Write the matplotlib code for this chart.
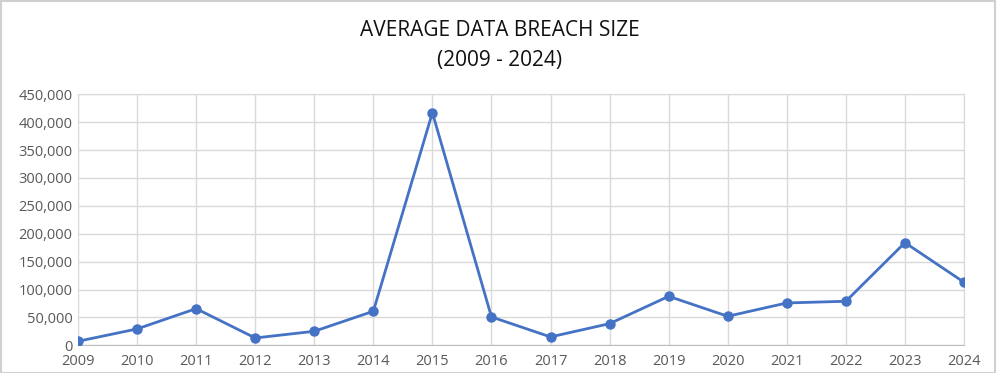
import numpy as np
import matplotlib.pyplot as plt
from matplotlib.ticker import FuncFormatter

# average data breach size per year
years = [2009, 2010, 2011, 2012, 2013, 2014, 2015, 2016,
         2017, 2018, 2019, 2020, 2021, 2022, 2023, 2024]
avg_size = [7200, 29300, 65700, 13100, 25100, 61000, 417000, 50800,
            15000, 38800, 87800, 52000, 75900, 78900, 184000, 113000]
yticks = [0, 50000, 100000, 150000, 200000, 250000, 300000, 350000, 400000, 450000]

plt.rcParams['font.family'] = ['Open Sans', 'DejaVu Sans']

fig = plt.figure(figsize=(10, 3.73), dpi=100)
ax = fig.add_axes([0.078, 0.0743, 0.886, 0.673])

ax.plot(years, avg_size, color='#4472C4', lw=2.0, marker='o', ms=6.5, zorder=3)

ax.set_xlim(years[0], years[-1])
ax.set_ylim(0, 450000)
ax.set_xticks(years)
ax.set_yticks(yticks)
ax.yaxis.set_major_formatter(FuncFormatter(lambda v, p: '{:,.0f}'.format(v)))
ax.grid(True, color='#d9d9d9', lw=1.0)
ax.set_axisbelow(True)
for s in ax.spines.values():
    s.set_color('#d9d9d9')
ax.spines['bottom'].set_color('#bfbfbf')
ax.tick_params(length=0, labelsize=10.5, labelcolor='#595959', pad=4)
ax.tick_params(axis='x', pad=6)

fig.text(0.5, 0.918, 'AVERAGE DATA BREACH SIZE', ha='center', va='center', fontsize=15, color='#111111')
fig.text(0.5, 0.838, '(2009 - 2024)', ha='center', va='center', fontsize=15, color='#111111')

# light frame around the chart
fig.patches.append(plt.Rectangle((0.001, 0.001), 0.994, 0.996, transform=fig.transFigure,
                                 fill=False, edgecolor='#d0d0d0', lw=1.5))

fig.savefig('out.png', dpi=100)
